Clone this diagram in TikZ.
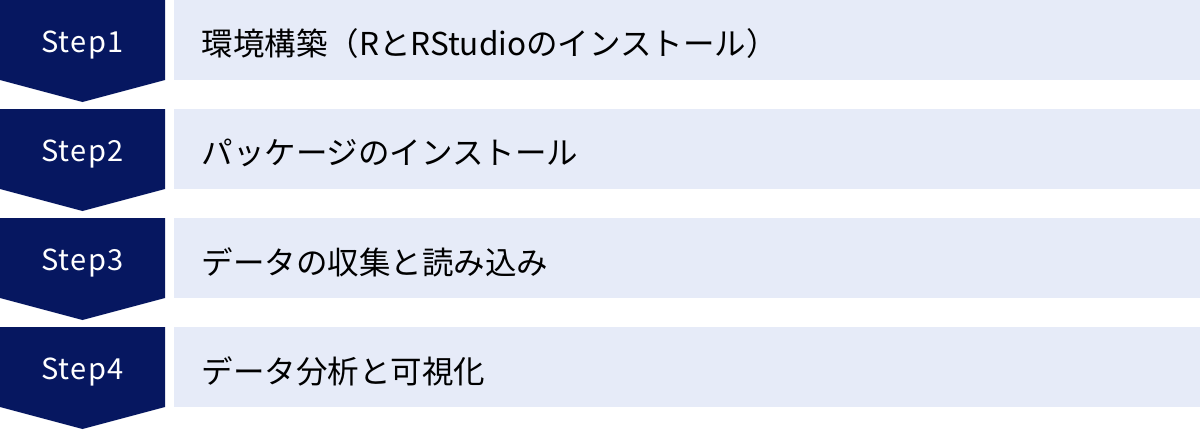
\documentclass[tikz,border=0pt]{standalone}
\usepackage{fontspec}
\setmainfont{Noto Sans CJK JP}
\definecolor{stepnavy}{HTML}{061760}
\definecolor{rowblue}{HTML}{E6EBF8}

\begin{document}
\begin{tikzpicture}[x=1pt, y=-1pt,
    stepbox/.style={fill=stepnavy, draw=none},
    steptext/.style={text=white, font=\fontsize{29}{34}\selectfont\addfontfeature{LetterSpace=5}},
    rowbox/.style={fill=rowblue, draw=none},
    rowtext/.style={anchor=west, font=\fontsize{31.5}{36}\selectfont}]
  \useasboundingbox (0, 0) rectangle (1200, 429);

  \foreach \i/\txt in {1/環境構築（RとRStudioのインストール）,
                       2/パッケージのインストール,
                       3/データの収集と読み込み,
                       4/データ分析と可視化} {
    \pgfmathsetmacro{\top}{(\i-1)*109}
    % chevron on the left
    \fill [stepbox] (0, \top) -- (165, \top) -- (165, \top+80)
      -- (82.5, \top+102) -- (0, \top+80) -- cycle;
    \node [steptext] (step\i) at (82.5, \top+45) {Step\i};

    % row on the right
    \fill [rowbox] (174, \top) rectangle (1200, \top+80);
    \node [rowtext] (row\i) at (198, \top+44) {\txt};
  }
\end{tikzpicture}
\end{document}
